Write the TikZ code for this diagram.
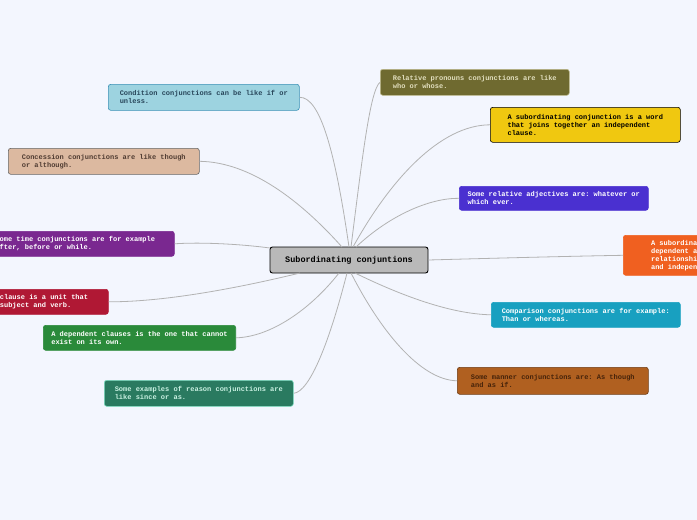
\documentclass[tikz,border=0pt]{standalone}
\usepackage{fontspec}
\setmonofont{Liberation Mono}
\begin{document}
\begin{tikzpicture}[x=1pt,y=-1pt,
  box/.style={rounded corners=2.5pt,anchor=north west,align=left,inner xsep=8pt,inner ysep=0pt,
    font=\ttfamily\bfseries\fontsize{7}{8}\selectfont,draw=#1!70!black,line width=0.6pt},
  link/.style={draw=gray!60,line width=0.8pt}]
\useasboundingbox[fill={rgb,255:red,243;green,246;blue,254}] (0,0) rectangle (697,520);
\begin{scope}
\clip (0,0) rectangle (697,520);
\node[box=gray,fill=gray!55,minimum width=158,minimum height=26,anchor=center,align=center,font=\ttfamily\bfseries\fontsize{8.5}{10}\selectfont,draw=black,line width=0.9pt] (c) at (349,260) {Subordinating conjuntions};
\node[box=cyan,fill={rgb,255:red,157;green,211;blue,224},text={rgb,255:red,40;green,70;blue,90},minimum width=191,minimum height=26] (n1) at (108,84) {Condition conjunctions can be like if or\\unless.};
\node[box=brown,fill={rgb,255:red,220;green,185;blue,160},text={rgb,255:red,80;green,60;blue,50},draw=gray!80!black,minimum width=191,minimum height=26] (n2) at (8,148) {Concession conjunctions are like though\\or although.};
\node[box=violet,fill={rgb,255:red,122;green,40;blue,144},text=white,draw={rgb,255:red,122;green,40;blue,144},minimum width=198,minimum height=25] (n3) at (-24,231) {Some time conjunctions are for example\\after, before or while.};
\node[box=red,fill={rgb,255:red,176;green,24;blue,52},text=white,draw={rgb,255:red,176;green,24;blue,52},minimum width=137,minimum height=25] (n4) at (-29,289) {A clause is a unit that\\a subject and verb.};
\node[box=green,fill={rgb,255:red,42;green,138;blue,58},text=white,draw={rgb,255:red,42;green,138;blue,58},minimum width=189,minimum height=25] (n5) at (43,325) {A dependent clauses is the one that cannot\\exist on its own.};
\node[box=teal,fill={rgb,255:red,42;green,122;blue,96},text={rgb,255:red,200;green,240;blue,225},draw={rgb,255:red,120;green,220;blue,190},minimum width=189,minimum height=26] (n6) at (104,380) {Some examples of reason conjunctions are\\like since or as.};
\node[box=olive,fill={rgb,255:red,111;green,106;blue,48},text={rgb,255:red,225;green,222;blue,190},draw={rgb,255:red,190;green,186;blue,140},minimum width=189,minimum height=26] (n7) at (380,69) {Relative pronouns conjunctions are like\\who or whose.};
\node[box=yellow,fill={rgb,255:red,240;green,200;blue,16},text=black,draw=black,minimum width=190,minimum height=35] (n8) at (490,107) {A subordinating conjunction is a word\\that joins together an independent\\clause.};
\node[box=blue,fill={rgb,255:red,74;green,48;blue,208},text=white,draw={rgb,255:red,74;green,48;blue,208},minimum width=189,minimum height=24] (n9) at (459,186) {Some relative adjectives are: whatever or\\which ever.};
\node[box=orange,fill={rgb,255:red,240;green,96;blue,32},text=white,draw={rgb,255:red,240;green,96;blue,32},minimum width=190,minimum height=40,inner xsep=7pt] (n10) at (623,235) {A subordinating conjunction is a\\dependent and independent clause\\relationship among the dependent\\and independent.};
\node[box=cyan,fill={rgb,255:red,24;green,160;blue,192},text=white,draw={rgb,255:red,24;green,160;blue,192},minimum width=189,minimum height=25] (n11) at (491,302) {Comparison conjunctions are for example:\\Than or whereas.};
\node[box=brown,fill={rgb,255:red,176;green,96;blue,32},text={rgb,255:red,70;green,35;blue,10},draw={rgb,255:red,110;green,60;blue,20},minimum width=191,minimum height=27] (n12) at (457,367) {Some manner conjunctions are: As though\\and as if.};
\end{scope}
\draw[link] (349,247) .. controls (335,150) and (320,97) .. (n1.east);
\draw[link] (342,247) .. controls (300,200) and (250,162) .. (n2.east);
\draw[link] (270,248) .. controls (240,244) and (200,242) .. (n3.east);
\draw[link] (300,273) .. controls (230,290) and (160,302) .. (n4.east);
\draw[link] (339,273) .. controls (310,310) and (270,337) .. (n5.east);
\draw[link] (347,273) .. controls (330,340) and (310,392) .. (n6.east);
\draw[link] (351,247) .. controls (362,160) and (370,90) .. (n7.west);
\draw[link] (353,247) .. controls (390,180) and (440,125) .. (n8.west);
\draw[link] (356,247) .. controls (390,215) and (430,198) .. (n9.west);
\draw[link] (c.east) .. controls (500,258) and (580,256) .. (n10.west);
\draw[link] (355,273) .. controls (400,295) and (450,314) .. (n11.west);
\draw[link] (351,273) .. controls (380,330) and (420,380) .. (n12.west);
\end{tikzpicture}
\end{document}
